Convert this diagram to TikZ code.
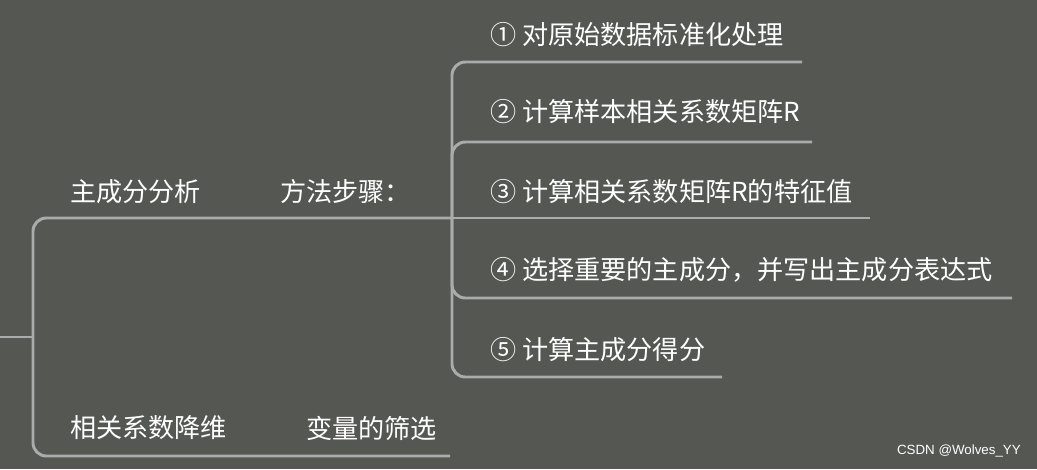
\documentclass[tikz,border=0pt]{standalone}
\usepackage{fontspec}
\newfontfamily\cjk{Noto Sans CJK SC}
\begin{document}
\begin{tikzpicture}[x=0.75pt,y=-0.75pt,
  br/.style={draw=black!33!white,line width=2.2pt,rounded corners=10pt},
  tx/.style={text=white,font=\cjk\fontsize{19.6}{22}\selectfont,anchor=west,inner sep=0pt}]
\fill[fill={rgb,255:red,85;green,87;blue,83}] (0,0) rectangle (1037,469);
\useasboundingbox (0,0) rectangle (1037,469);
\coordinate (root) at (0,337);
\coordinate (rj) at (33,337);
\coordinate (sj) at (452,218);
% left bracket
\draw[br] (root) -- (rj);
\draw[br] (rj) |- (452,218);
\draw[br] (rj) |- (450,456);
% right bracket
\draw[br] (sj) |- (802,62);
\draw[br] (sj) |- (812,142);
\draw[br] (sj) -- (870,218);
\draw[br] (sj) |- (1012,298);
\draw[br] (sj) |- (722,377);
% labels
\node[tx] (a) at (70,192) {主成分分析};
\node[tx] (b) at (280,192) {方法步骤：};
\node[tx] (c) at (70,428) {相关系数降维};
\node[tx] (d) at (306,428) {变量的筛选};
\node[tx] (s1) at (490,35) {① 对原始数据标准化处理};
\node[tx] (s2) at (490,112) {② 计算样本相关系数矩阵R};
\node[tx] (s3) at (490,192) {③ 计算相关系数矩阵R的特征值};
\node[tx] (s4) at (490,270) {④ 选择重要的主成分，并写出主成分表达式};
\node[tx] (s5) at (490,350) {⑤ 计算主成分得分};
\node[text=white,font=\fontspec{Liberation Sans}\fontsize{10}{11}\selectfont,anchor=east,inner sep=0pt] (w) at (1021,451) {CSDN @Wolves\_YY};
\end{tikzpicture}
\end{document}
